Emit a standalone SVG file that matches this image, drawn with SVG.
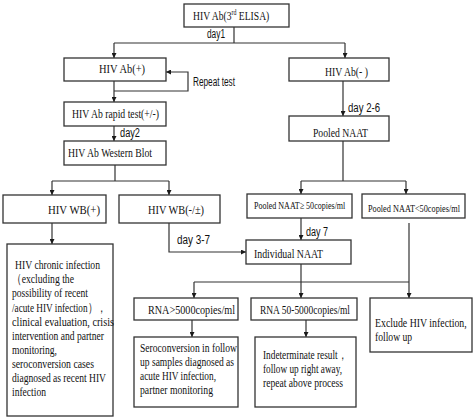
<svg xmlns="http://www.w3.org/2000/svg" width="474" height="420" viewBox="0 0 474 420">
<defs>
<marker id="ah" viewBox="0 0 10 10" refX="10" refY="5" markerWidth="5" markerHeight="5" orient="auto" markerUnits="userSpaceOnUse">
<path d="M0,0 L10,5 L0,10 z" fill="#1a1a1a"/>
</marker>
<style>
.box{fill:#fff;stroke:#333;stroke-width:1.3}
.t{font-family:"Liberation Serif","Times New Roman",serif;font-size:13px;fill:#111}
.sm{font-size:11px}
.s{font-family:"Liberation Sans",Arial,sans-serif;font-size:12px;fill:#111}
.c{fill:none;stroke:#333;stroke-width:1.2}
.a{marker-end:url(#ah)}
</style>
</defs>
<rect width="474" height="420" fill="#fff"/>
<g id="connectors">
<path class="c" d="M234,27 V43 M114,43 H345"/>
<path class="c a" d="M114,43 V58"/>
<path class="c a" d="M345,43 V58"/>
<path class="c a" d="M114,81 V102"/>
<path class="c a" d="M114,91 H188 V72 H166"/>
<path class="c a" d="M114,126 V141"/>
<path class="c" d="M115,165 V181 M52,181 H169"/>
<path class="c a" d="M52,181 V195"/>
<path class="c a" d="M169,181 V195"/>
<path class="c a" d="M52,223 V244"/>
<path class="c a" d="M169,223 V252 H246"/>
<path class="c a" d="M343,81 V116"/>
<path class="c" d="M343,141 V181 M301,181 H406"/>
<path class="c a" d="M301,181 V194"/>
<path class="c a" d="M406,181 V194"/>
<path class="c a" d="M301,218 V240"/>
<path class="c a" d="M409,223 V298"/>
<path class="c" d="M194,282 H409"/>
<path class="c a" d="M301,264 V298"/>
<path class="c a" d="M194,282 V298"/>
<path class="c a" d="M192,320 V337"/>
<path class="c a" d="M306,320 V337"/>
<text class="s" x="207" y="38" textLength="18" lengthAdjust="spacingAndGlyphs">day1</text>
<text class="s" x="193" y="86" textLength="42" lengthAdjust="spacingAndGlyphs">Repeat test</text>
<text class="s" x="120" y="137" textLength="20" lengthAdjust="spacingAndGlyphs">day2</text>
<text class="s" x="348" y="112" textLength="32" lengthAdjust="spacingAndGlyphs">day 2-6</text>
<text class="s" x="306" y="236" textLength="22" lengthAdjust="spacingAndGlyphs">day 7</text>
<text class="s" x="177" y="244" textLength="33" lengthAdjust="spacingAndGlyphs">day 3-7</text>
</g>
<g id="n-elisa"><rect class="box" x="184" y="4" width="105" height="23"/>
<text class="t" transform="translate(193,20) scale(0.74,1)">HIV Ab(3<tspan font-size="8" dy="-5">rd</tspan><tspan dy="5"> ELISA)</tspan></text></g>
<g id="n-abpos"><rect class="box" x="64" y="58" width="102" height="23"/>
<text class="t" x="99" y="73" textLength="46" lengthAdjust="spacingAndGlyphs">HIV Ab(+)</text></g>
<g id="n-rapid"><rect class="box" x="64" y="102" width="102" height="24"/>
<text class="t" x="72" y="118" textLength="87" lengthAdjust="spacingAndGlyphs">HIV Ab rapid test(+/-)</text></g>
<g id="n-wb"><rect class="box" x="64" y="141" width="102" height="24"/>
<text class="t" x="68" y="157" textLength="84" lengthAdjust="spacingAndGlyphs">HIV Ab Western Blot</text></g>
<g id="n-wbpos"><rect class="box" x="3" y="195" width="103" height="28"/>
<text class="t" x="48" y="214" textLength="52" lengthAdjust="spacingAndGlyphs">HIV WB(+)</text></g>
<g id="n-wbneg"><rect class="box" x="119" y="195" width="101" height="28"/>
<text class="t" x="148" y="214" textLength="56" lengthAdjust="spacingAndGlyphs">HIV WB(-/±)</text></g>
<g id="n-chronic"><rect class="box" x="7" y="244" width="106" height="172"/>
<text class="t" x="15" y="269" textLength="85" lengthAdjust="spacingAndGlyphs">HIV chronic infection</text>
<text class="t" x="12" y="283" textLength="62" lengthAdjust="spacingAndGlyphs">（excluding the</text>
<text class="t" x="12" y="297" textLength="76" lengthAdjust="spacingAndGlyphs">possibility of recent</text>
<text class="t" x="12" y="312" textLength="94" lengthAdjust="spacingAndGlyphs">/acute  HIV infection），</text>
<text class="t" x="12" y="326" textLength="102" lengthAdjust="spacingAndGlyphs">clinical evaluation, crisis</text>
<text class="t" x="12" y="340" textLength="92" lengthAdjust="spacingAndGlyphs">intervention and partner</text>
<text class="t" x="12" y="354" textLength="45" lengthAdjust="spacingAndGlyphs">monitoring,</text>
<text class="t" x="12" y="368" textLength="82" lengthAdjust="spacingAndGlyphs">seroconversion cases</text>
<text class="t" x="12" y="382" textLength="94" lengthAdjust="spacingAndGlyphs">diagnosed as recent HIV</text>
<text class="t" x="12" y="396" textLength="34" lengthAdjust="spacingAndGlyphs">infection</text></g>
<g id="n-abneg"><rect class="box" x="289" y="58" width="100" height="23"/>
<text class="t" x="325" y="76" textLength="43" lengthAdjust="spacingAndGlyphs">HIV Ab(- )</text></g>
<g id="n-pooled"><rect class="box" x="289" y="116" width="100" height="25"/>
<text class="t" x="313" y="137" textLength="55" lengthAdjust="spacingAndGlyphs">Pooled NAAT</text></g>
<g id="n-pooledhi"><rect class="box" x="247" y="194" width="105" height="24"/>
<text class="t sm" transform="translate(254,209) scale(0.73,1)">Pooled NAAT≥ 50copies/ml</text></g>
<g id="n-pooledlo"><rect class="box" x="362" y="194" width="103" height="24"/>
<text class="t sm" transform="translate(368,212) scale(0.75,1)">Pooled NAAT&lt;50copies/ml</text></g>
<g id="n-individual"><rect class="box" x="246" y="240" width="105" height="24"/>
<text class="t" x="254" y="258" textLength="69" lengthAdjust="spacingAndGlyphs">Individual  NAAT</text></g>
<g id="n-rnahi"><rect class="box" x="134" y="298" width="104" height="22"/>
<text class="t" x="148" y="314" textLength="87" lengthAdjust="spacingAndGlyphs">RNA&gt;5000copies/ml</text></g>
<g id="n-rnamid"><rect class="box" x="251" y="298" width="106" height="22"/>
<text class="t" x="260" y="314" textLength="90" lengthAdjust="spacingAndGlyphs">RNA 50-5000copies/ml</text></g>
<g id="n-exclude"><rect class="box" x="370" y="298" width="102" height="54"/>
<text class="t" transform="translate(375,327) scale(0.756,1)">Exclude HIV infection,</text>
<text class="t" transform="translate(375,341) scale(0.74,1)">follow up</text></g>
<g id="n-sero"><rect class="box" x="134" y="337" width="104" height="70"/>
<text class="t" x="140" y="352" textLength="97" lengthAdjust="spacingAndGlyphs">Seroconversion in follow</text>
<text class="t" x="140" y="366" textLength="94" lengthAdjust="spacingAndGlyphs">up samples diagnosed as</text>
<text class="t" x="140" y="380" textLength="76" lengthAdjust="spacingAndGlyphs">acute HIV infection,</text>
<text class="t" x="140" y="394" textLength="73" lengthAdjust="spacingAndGlyphs">partner monitoring</text></g>
<g id="n-indet"><rect class="box" x="255" y="337" width="101" height="70"/>
<text class="t" x="263" y="359" textLength="84" lengthAdjust="spacingAndGlyphs">Indeterminate result，</text>
<text class="t" x="263" y="373" textLength="79" lengthAdjust="spacingAndGlyphs">follow up right away,</text>
<text class="t" x="263" y="387" textLength="80" lengthAdjust="spacingAndGlyphs">repeat above process</text></g>
</svg>
